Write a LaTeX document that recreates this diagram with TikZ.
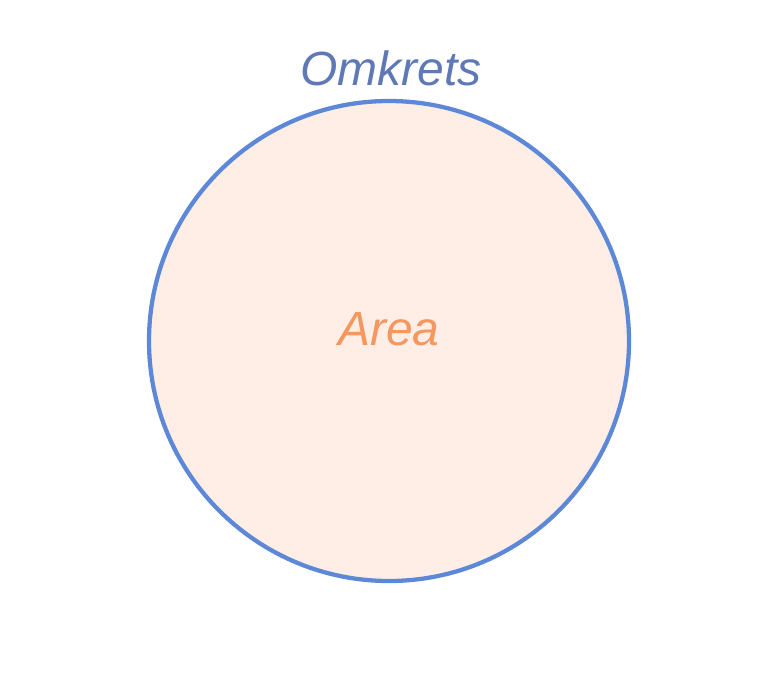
\documentclass[tikz,border=0pt]{standalone}
\usepackage{fontspec}
\setmainfont{Liberation Sans}
\definecolor{randblue}{HTML}{5D88D8}
\definecolor{textblue}{HTML}{5E79B6}
\definecolor{areaorange}{HTML}{F5975E}
\definecolor{areafill}{HTML}{FFEEE6}
\begin{document}
\begin{tikzpicture}[x=0.75pt,y=-0.75pt,
		rand/.style={draw=randblue,line width=3.2pt,fill=areafill},
		label/.style={font=\fontsize{36}{40}\selectfont\itshape,inner sep=0pt,anchor=base}]
			\useasboundingbox (0,0) rectangle (777,686);
			\draw[rand] (389,341) circle (240);
			\node[label,text=textblue] (omkrets) at (391,85) {Omkrets};
			\node[label,text=areaorange] (area) at (389,345) {Area};
	\end{tikzpicture}
\end{document}
